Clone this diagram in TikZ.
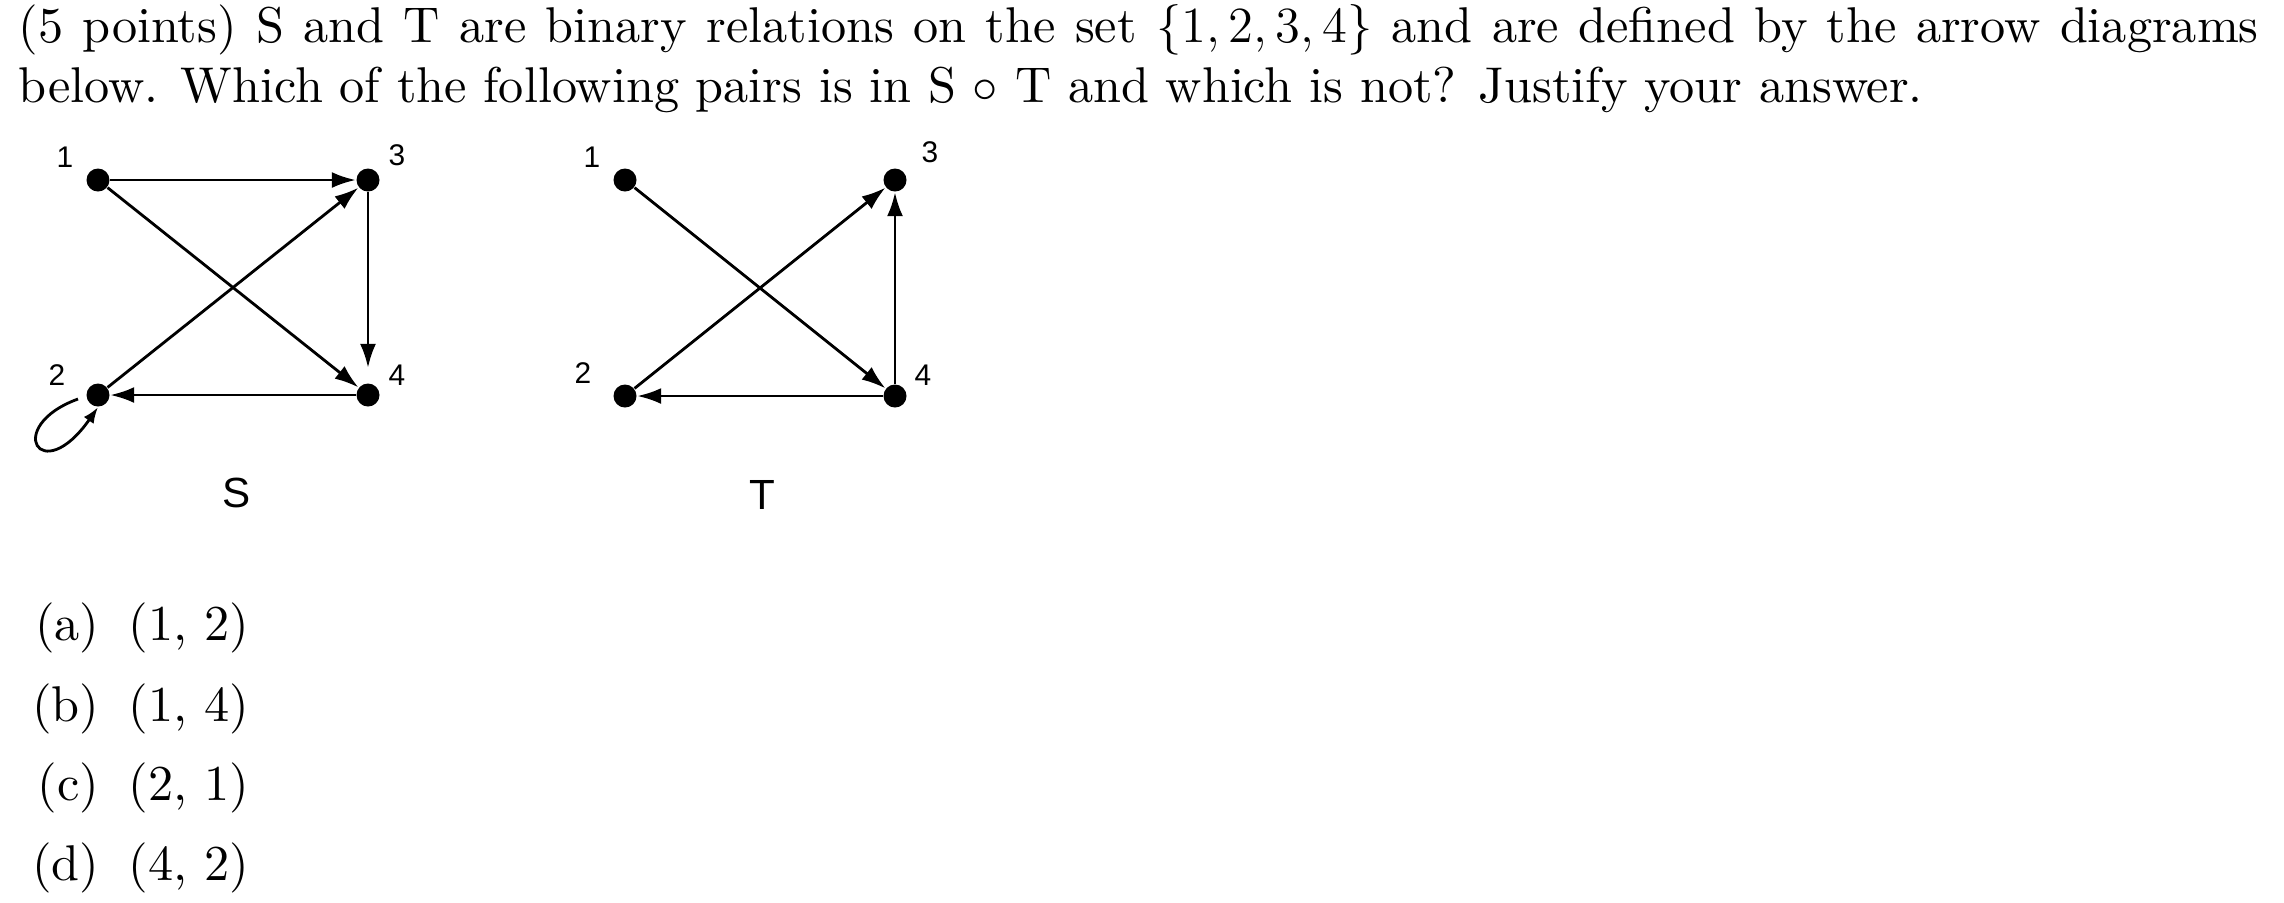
\documentclass[tikz,border=0pt]{standalone}
\usepackage{fontspec}
\setmainfont{lmroman10-regular.otf}
\newfontfamily\arialfont{Liberation Sans}
\usetikzlibrary{arrows.meta}

\tikzset{
  dot/.style={circle,fill=black,inner sep=0pt,minimum size=0.23cm},
  num/.style={font=\arialfont\fontsize{8.5}{10}\selectfont,inner sep=0pt},
  arr/.style={-{Latex[length=2.4mm,width=1.6mm]},line width=0.8pt},
  qtext/.style={font=\fontsize{14.3}{17}\selectfont,inner sep=0pt}
}

\begin{document}
\begin{tikzpicture}
        \useasboundingbox (0,0) rectangle (22.84,-9.02);

        % Frage
        \node[qtext,anchor=north west,text width=22.4cm,align=justify] (question) at (0.18,-0.04)
          {(5 points) S and T are binary relations on the set $\{1,2,3,4\}$ and are defined by the arrow diagrams\linebreak
           below. Which of the following pairs is in S $\circ$ T and which is not? Justify your answer.};

        % Relation S
        \node[dot] (s1) at (0.98,-1.80) {};
        \node[dot] (s3) at (3.68,-1.80) {};
        \node[dot] (s2) at (0.98,-3.95) {};
        \node[dot] (s4) at (3.68,-3.95) {};
        \node[num] (ls1) at (0.65,-1.57) {1};
        \node[num] (ls3) at (3.97,-1.55) {3};
        \node[num] (ls2) at (0.57,-3.75) {2};
        \node[num] (ls4) at (3.97,-3.75) {4};
        \draw[arr] (s1) -- (s3);
        \draw[arr] (s1) -- (s4);
        \draw[arr] (s2) -- (s3);
        \draw[arr,shorten >=1.5mm] (s3) -- (s4);
        \draw[arr] (s4) -- (s2);
        \coordinate (loopstart) at (0.78,-3.99);
        \draw[-{Latex[length=1.6mm,width=1.2mm]},line width=0.8pt] (loopstart) .. controls +(200:0.8) and +(235:1.0) .. (s2.south);
        \node[font=\arialfont\fontsize{12}{14}\selectfont] (namS) at (2.37,-4.93) {S};

        % Relation T
        \node[dot] (t1) at (6.25,-1.80) {};
        \node[dot] (t3) at (8.95,-1.80) {};
        \node[dot] (t2) at (6.25,-3.96) {};
        \node[dot] (t4) at (8.95,-3.96) {};
        \node[num] (lt1) at (5.92,-1.57) {1};
        \node[num] (lt3) at (9.30,-1.52) {3};
        \node[num] (lt2) at (5.83,-3.73) {2};
        \node[num] (lt4) at (9.23,-3.75) {4};
        \draw[arr] (t1) -- (t4);
        \draw[arr] (t2) -- (t3);
        \draw[arr] (t4) -- (t3);
        \draw[arr] (t4) -- (t2);
        \node[font=\arialfont\fontsize{12}{14}\selectfont] (namT) at (7.62,-4.95) {T};

        % Antworten
        \node[qtext,anchor=base east] (la) at (1.00,-6.40) {(a)};
        \node[qtext,anchor=base east] (lb) at (1.00,-7.21) {(b)};
        \node[qtext,anchor=base east] (lc) at (1.00,-8.00) {(c)};
        \node[qtext,anchor=base east] (ld) at (1.00,-8.80) {(d)};
        \node[qtext,anchor=base west] (pa) at (1.28,-6.40) {(1, 2)};
        \node[qtext,anchor=base west] (pb) at (1.28,-7.21) {(1, 4)};
        \node[qtext,anchor=base west] (pc) at (1.28,-8.00) {(2, 1)};
        \node[qtext,anchor=base west] (pd) at (1.28,-8.80) {(4, 2)};
    \end{tikzpicture}
\end{document}
